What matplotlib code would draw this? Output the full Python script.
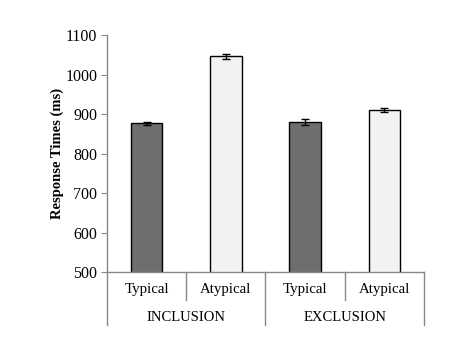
import matplotlib
matplotlib.use("Agg")
import matplotlib.pyplot as plt
import numpy as np

plt.rcParams['font.family'] = ['Liberation Serif', 'DejaVu Serif']

conditions = ["Typical", "Atypical", "Typical", "Atypical"]
groups = ["INCLUSION", "EXCLUSION"]
rts = [876, 1046, 880, 910]
errs = [5, 6, 7, 5]
colors = ["#6e6e6e", "#f2f2f2", "#6e6e6e", "#f2f2f2"]

fig = plt.figure(figsize=(4.74, 3.55), dpi=100)
ax = fig.add_axes([0.2257, 0.2338, 0.6688, 0.6676])

x = np.arange(len(rts))
ax.bar(x, rts, width=0.4, color=colors, edgecolor="black", linewidth=1.0,
       yerr=errs, capsize=3, error_kw=dict(elinewidth=1, capthick=1, ecolor="black"))

ax.set_xlim(-0.5, 3.5)
ax.set_ylim(500, 1100)
ax.set_yticks(range(500, 1101, 100))
ax.tick_params(axis="y", labelsize=11.5, length=4, color="#888888", pad=3)
ax.set_xticks([])
ax.set_ylabel("Response Times (ms)", fontsize=10.5, fontweight="bold", labelpad=1)

for side in ["top", "right"]:
    ax.spines[side].set_visible(False)
for side in ["left", "bottom"]:
    ax.spines[side].set_color("#888888")
    ax.spines[side].set_linewidth(1)

trans = ax.get_xaxis_transform()
for i, lab in enumerate(conditions):
    ax.text(x[i], -0.075, lab, transform=trans, ha="center", va="center", fontsize=10.7)
for g, lab in enumerate(groups):
    ax.text(2 * g + 0.5, -0.19, lab, transform=trans, ha="center", va="center", fontsize=10.5)

for pos in [-0.5, 1.5, 3.5]:
    ax.plot([pos, pos], [0, -0.225], transform=trans, color="#888888", lw=1, clip_on=False)
for pos in [0.5, 2.5]:
    ax.plot([pos, pos], [0, -0.12], transform=trans, color="#888888", lw=1, clip_on=False)

fig.savefig("out.png", dpi=100)
